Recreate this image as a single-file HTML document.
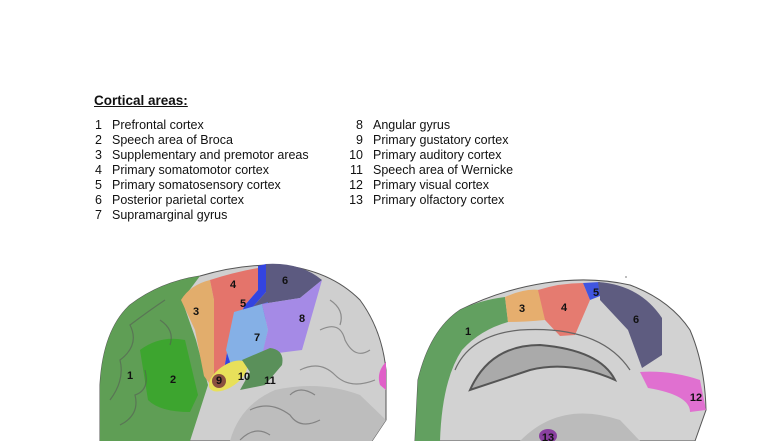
<!DOCTYPE html>
<html><head><meta charset="utf-8"><style>
html,body{margin:0;padding:0;background:#fff;width:784px;height:441px;overflow:hidden;font-family:"Liberation Sans",Arial,sans-serif;}
.c{position:absolute;font-size:12.5px;color:#111;line-height:15px;white-space:pre;}
.h{position:absolute;left:94px;top:93px;font-size:13.5px;font-weight:bold;text-decoration:underline;color:#111;}
svg{position:absolute;left:0;top:0}
</style></head><body>
<svg width="784" height="441" viewBox="0 0 784 441">
<!-- left brain -->
<path d="M100,441 L100,385 Q103,330 130,305 Q160,282 200,276 Q240,264 280,265 Q330,270 360,300 Q382,330 386,370 L386,420 L372,441Z" fill="#cfcfcf" stroke="#555" stroke-width="1"/>
<path d="M230,441 Q240,405 275,390 Q320,380 360,395 L386,420 L372,441Z" fill="#bdbdbd"/>
<path d="M100,441 L100,385 Q103,330 130,305 Q160,282 200,276 L182,300 L196,340 L208,385 L190,441Z" fill="#5f9e55"/>
<path d="M140,350 Q160,335 185,340 L198,395 L190,412 Q160,412 148,400Z" fill="#3da52f"/>
<path d="M181,300 Q190,285 210,280 L214,300 L216,370 L212,387 L204,376 L195,330Z" fill="#e2ad6c"/>
<path d="M210,280 Q235,272 258,268 L258,290 L245,305 L230,335 L224,370 L214,386 L214,300Z" fill="#e4746b"/>
<path d="M258,266 L266,264 L266,292 L252,308 L238,340 L228,378 L218,387 L224,370 L230,335 L245,305 L258,290Z" fill="#3344e0"/>
<path d="M266,264 Q300,262 322,280 L300,298 L262,304 L252,308 L266,292Z" fill="#5c5a80"/>
<path d="M252,308 L262,304 L268,302 L262,352 L238,360 L228,378 L238,340Z" fill="#5a70e0"/>
<path d="M234,312 L262,304 L268,330 L262,356 L232,368 L226,350Z" fill="#85b0e6"/>
<path d="M262,304 L300,298 L322,280 L302,350 L262,355 L268,330Z" fill="#a58ae6"/>
<ellipse cx="228" cy="376" rx="22" ry="11" transform="rotate(-35 228 376)" fill="#e8e05a"/>
<path d="M242,360 L270,348 Q285,350 282,365 L265,385 L240,390 L250,372Z" fill="#5a905a"/>
<circle cx="219" cy="381" r="7" fill="#8a5040"/>
<path d="M386,362 Q376,372 380,385 L386,390Z" fill="#e060c8"/>
<g fill="none" stroke="#555" stroke-width="1.2" opacity="0.55">
<path d="M110,400 Q125,380 120,360 Q140,345 130,325 Q150,310 165,300"/>
<path d="M120,425 Q140,415 135,395 Q150,390 145,370"/>
<path d="M160,320 Q175,330 170,345"/>
<path d="M320,330 Q340,320 345,340 Q355,360 370,350"/>
<path d="M300,370 Q320,360 335,375 Q350,390 375,380"/>
<path d="M250,410 Q270,400 290,415 Q300,430 320,420"/>
<path d="M240,440 Q255,425 270,435"/>
<path d="M330,300 Q345,310 340,325"/>
<path d="M290,395 Q300,385 315,395"/>
</g>
<!-- right brain -->
<path d="M415,441 L418,380 Q430,330 460,310 Q500,290 545,283 Q590,276 630,285 Q670,300 690,330 Q705,365 706,410 L695,441Z" fill="#d2d2d2" stroke="#555" stroke-width="1"/>
<path d="M415,441 L418,380 Q430,330 460,310 Q480,300 505,297 L508,322 Q480,330 462,350 Q442,380 440,441Z" fill="#62a060"/>
<path d="M505,297 Q525,288 540,290 L545,320 Q525,322 508,322Z" fill="#e6ae6e"/>
<path d="M538,290 Q560,283 583,283 L590,300 L575,335 L560,336 L545,320Z" fill="#e57b70"/>
<path d="M583,283 L600,282 L600,296 L590,300Z" fill="#4055e0"/>
<path d="M598,282 Q640,285 662,318 L662,355 L642,368 L628,330 L600,300 L600,296Z" fill="#5e5c80"/>
<path d="M640,372 Q670,370 700,380 L706,410 L690,412 Q690,395 648,388Z" fill="#e070d0"/>
<path d="M470,390 Q490,345 540,345 Q600,350 615,380 Q570,360 530,370 Q500,380 470,390Z" fill="#aaa" stroke="#555" stroke-width="2"/>
<path d="M455,370 Q470,335 520,330 Q600,325 630,370" fill="none" stroke="#666" stroke-width="1.2"/>
<path d="M520,441 Q560,400 620,420 L640,441Z" fill="#bbb"/>
<ellipse cx="548" cy="436" rx="9" ry="7" fill="#8a40a0"/>
<circle cx="626" cy="277" r="1" fill="#aaa"/>
<g font-family="Liberation Sans,Arial,sans-serif" font-size="11" font-weight="bold" fill="#111" text-anchor="middle">
<text x="130" y="379">1</text><text x="173" y="383">2</text><text x="196" y="315">3</text><text x="233" y="288">4</text>
<text x="243" y="307">5</text><text x="285" y="284">6</text><text x="257" y="341">7</text><text x="302" y="322">8</text>
<text x="219" y="384">9</text><text x="244" y="380">10</text><text x="270" y="384">11</text>
<text x="468" y="335">1</text><text x="522" y="312">3</text><text x="564" y="311">4</text><text x="596" y="296">5</text>
<text x="636" y="323">6</text><text x="696" y="401">12</text><text x="548" y="441">13</text>
</g>
</svg>
<div class="h">Cortical areas:</div>
<div class="c" style="left:95px;top:118px">1
2
3
4
5
6
7</div>
<div class="c" style="left:112px;top:118px">Prefrontal cortex
Speech area of Broca
Supplementary and premotor areas
Primary somatomotor cortex
Primary somatosensory cortex
Posterior parietal cortex
Supramarginal gyrus</div>
<div class="c" style="left:349px;top:118px;text-align:right;width:14px">8
9
10
11
12
13</div>
<div class="c" style="left:373px;top:118px">Angular gyrus
Primary gustatory cortex
Primary auditory cortex
Speech area of Wernicke
Primary visual cortex
Primary olfactory cortex</div>
</body></html>
